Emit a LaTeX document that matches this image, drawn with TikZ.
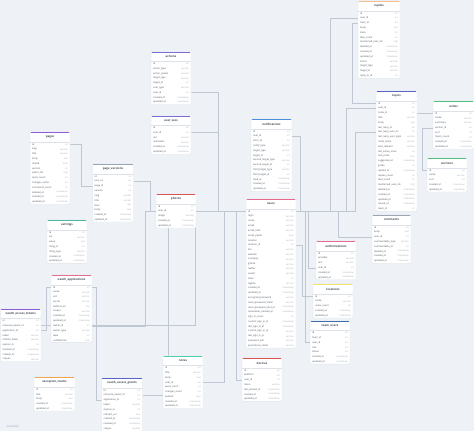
\documentclass[tikz,border=0pt]{standalone}
\usepackage{fontspec}
\setmainfont{Open Sans}
\usetikzlibrary{calc,backgrounds}

\definecolor{bgcol}{HTML}{EEF2F6}
\definecolor{linecol}{HTML}{BFC8D2}
\definecolor{boxline}{HTML}{DCE2E8}
\definecolor{fieldcol}{HTML}{46505B}
\definecolor{typecol}{HTML}{A3ACB6}
\definecolor{purplebar}{HTML}{7A6FD6}
\definecolor{peachbar}{HTML}{F5C08E}
\definecolor{indigobar}{HTML}{5A63C8}
\definecolor{greenbar}{HTML}{52C07E}
\definecolor{bluebar}{HTML}{4A8FD8}
\definecolor{pinkbar}{HTML}{E86A8E}
\definecolor{yellowbar}{HTML}{F2E16B}
\definecolor{steelbar}{HTML}{3D6DA8}
\definecolor{graybar}{HTML}{9AA6B2}
\definecolor{redbar}{HTML}{D9534F}
\definecolor{violetbar}{HTML}{8E5FD9}
\definecolor{tealbar}{HTML}{4DB6A0}
\definecolor{orangebar}{HTML}{F0A64E}
\definecolor{mintbar}{HTML}{4CCFAF}

\tikzset{
  tablebox/.style={fill=white, draw=boxline, line width=0.3pt, rounded corners=1.2pt},
  headbar/.style={line width=1.4pt},
  tabletitle/.style={font=\fontsize{2.9}{3.2}\selectfont\bfseries, text=fieldcol, inner sep=0pt},
  fieldrow/.style={font=\fontsize{2.4}{2.8}\selectfont, text=fieldcol, inner xsep=2pt, inner ysep=0pt, minimum height=4.8pt, align=left},
  fieldtype/.style={font=\fontsize{2.2}{2.6}\selectfont, text=typecol, inner sep=0pt},
  rel/.style={draw=linecol, line width=0.5pt},
  logo/.style={font=\fontsize{3}{3.4}\selectfont, text=typecol, inner sep=0pt}
}

\newcounter{nrows}
\newcommand{\fldtext}[1]{\expandafter\detokenize\expandafter{#1}}
% #1 name, #2 left, #3 top, #4 width, #5 bar colour, #6 fields
\newcommand{\erdtable}[6]{%
  \setcounter{nrows}{0}%
  \foreach \fname/\ftype in {#6}{\stepcounter{nrows}}%
  \pgfmathsetmacro{\tbot}{#3+10+4.8*\thenrows}%
  \pgfmathsetmacro{\tw}{#4-4}%
  \draw[tablebox] (#2,#3) rectangle (#2+#4,\tbot);
  \draw[headbar, draw=#5] (#2+0.7,#3+0.7) -- (#2+#4-0.7,#3+0.7);
  \draw[boxline, line width=0.2pt] (#2,#3+9.6) -- (#2+#4,#3+9.6);
  \node[tabletitle] (#1) at (#2+#4/2,#3+5) {\detokenize{#1}};
  \foreach \fname/\ftype [count=\i] in {#6}{%
    \node[fieldrow, text width=\tw pt, anchor=west] (#1-\fname) at (#2,#3+10+4.8*\i-2.4) {\fldtext{\fname}};
    \node[fieldtype, anchor=east] at (#2+#4-2,#3+10+4.8*\i-2.4) {\ftype};
  }%
}

\begin{document}
\begin{tikzpicture}[x=1pt, y=-1pt]
    \useasboundingbox (0,0) rectangle (474,431);

    % Tables
    \erdtable{actions}{151}{51.5}{40}{purplebar}{id/int,action_type/varchar,action_option/varchar,target_type/varchar,target_id/int,user_type/varchar,user_id/int,created_at/timestamp,updated_at/timestamp}
    \erdtable{user_ssos}{151}{115.5}{40}{purplebar}{id/int,user_id/int,uid/varchar,username/varchar,created_at/timestamp,updated_at/timestamp}
    \erdtable{replies}{358}{1}{42}{peachbar}{id/int,user_id/int,topic_id/int,body/text,state/int,likes_count/int,mentioned_user_ids/int[],deleted_at/timestamp,created_at/timestamp,updated_at/timestamp,action/varchar,target_type/varchar,target_id/varchar,reply_to_id/int}
    \erdtable{topics}{376}{91}{41}{indigobar}{id/int,user_id/int,node_id/int,title/varchar,body/text,last_reply_id/int,last_reply_user_id/int,last_reply_user_login/varchar,node_name/varchar,who_deleted/varchar,last_active_mark/int,lock_node/bool,suggested_at/timestamp,grade/int,replied_at/timestamp,replies_count/int,likes_count/int,mentioned_user_ids/int[],deleted_at/timestamp,created_at/timestamp,updated_at/timestamp,closed_at/timestamp,team_id/int}
    \erdtable{nodes}{433}{101}{41}{greenbar}{id/int,name/varchar,summary/varchar,section_id/int,sort/int,topics_count/int,created_at/timestamp,updated_at/timestamp}
    \erdtable{sections}{427}{158}{40}{greenbar}{id/int,name/varchar,sort/int,created_at/timestamp,updated_at/timestamp}
    \erdtable{comments}{372}{215}{39}{graybar}{id/int,body/text,user_id/int,commentable_type/varchar,commentable_id/int,deleted_at/timestamp,created_at/timestamp,updated_at/timestamp}
    \erdtable{notifications}{251}{119}{41}{bluebar}{id/int,user_id/int,actor_id/int,notify_type/varchar,target_type/varchar,target_id/int,second_target_type/varchar,second_target_id/int,third_target_type/varchar,third_target_id/int,read_at/timestamp,created_at/timestamp,updated_at/timestamp}
    \erdtable{users}{246}{199}{50}{pinkbar}{id/int,login/varchar,name/varchar,email/varchar,email_md5/varchar,email_public/bool,location/varchar,location_id/int,bio/varchar,website/varchar,company/varchar,github/varchar,twitter/varchar,avatar/varchar,state/int,tagline/varchar,created_at/timestamp,updated_at/timestamp,encrypted_password/varchar,reset_password_token/varchar,reset_password_sent_at/timestamp,remember_created_at/timestamp,sign_in_count/int,current_sign_in_at/timestamp,last_sign_in_at/timestamp,current_sign_in_ip/varchar,last_sign_in_ip/varchar,password_salt/varchar,persistence_token/varchar}
    \erdtable{authorizations}{316}{241}{40}{pinkbar}{id/int,provider/varchar,uid/varchar,user_id/int,created_at/timestamp,updated_at/timestamp}
    \erdtable{locations}{313}{284}{40}{yellowbar}{id/int,name/varchar,users_count/int,created_at/timestamp,updated_at/timestamp}
    \erdtable{team_users}{310}{320.5}{40}{steelbar}{id/int,team_id/int,user_id/int,role/int,status/int,created_at/timestamp,updated_at/timestamp}
    \erdtable{photos}{156}{194}{40}{redbar}{id/int,user_id/int,image/varchar,created_at/timestamp,updated_at/timestamp}
    \erdtable{pages}{30}{132}{40}{violetbar}{id/int,slug/varchar,title/varchar,body/text,locked/bool,version/int,editor_ids/int[],word_count/int,changes_cache/int,comments_count/int,deleted_at/timestamp,created_at/timestamp,updated_at/timestamp}
    \erdtable{page_versions}{92.5}{164}{41}{graybar}{id/int,user_id/int,page_id/int,version/int,slug/varchar,title/varchar,desc/text,body/text,created_at/timestamp,updated_at/timestamp}
    \erdtable{settings}{47}{220}{40}{tealbar}{id/int,var/varchar,value/text,thing_id/int,thing_type/varchar,created_at/timestamp,updated_at/timestamp}
    \erdtable{oauth_applications}{51}{275}{41}{pinkbar}{id/int,name/varchar,uid/varchar,secret/varchar,redirect_uri/text,scopes/varchar,created_at/timestamp,updated_at/timestamp,owner_id/int,owner_type/varchar,level/int,confidential/bool}
    \erdtable{oauth_access_tokens}{0.5}{308.5}{40.5}{violetbar}{id/int,resource_owner_id/int,application_id/int,token/varchar,refresh_token/varchar,expires_in/int,revoked_at/timestamp,created_at/timestamp,scopes/varchar}
    \erdtable{exception_tracks}{34}{377}{41}{orangebar}{id/int,title/varchar,body/text,created_at/timestamp,updated_at/timestamp}
    \erdtable{oauth_access_grants}{101.5}{378}{41}{indigobar}{id/int,resource_owner_id/int,application_id/int,token/varchar,expires_in/int,redirect_uri/text,created_at/timestamp,revoked_at/timestamp,scopes/varchar}
    \erdtable{notes}{163}{355.5}{40}{mintbar}{id/int,title/varchar,body/text,user_id/int,word_count/int,changes_count/int,publish/bool,created_at/timestamp,updated_at/timestamp}
    \erdtable{devices}{242}{358}{40}{redbar}{id/int,platform/int,user_id/int,token/varchar,last_actived_at/timestamp,created_at/timestamp,updated_at/timestamp}

    \node[logo] (logo) at (13,427) {drawSQL};

    \begin{scope}[on background layer]
    \fill[bgcol] (0,0) rectangle (474,431);

    % Relations into users.id, left side
    \draw[rel] (actions-user_id.east) -- ++(27,0) |- (users-id.west);
    \draw[rel] (user_ssos-user_id.east) -- ++(27,0) |- (users-id.west);
    \draw[rel] (photos-user_id.east) -- ++(22,0) |- (users-id.west);
    \draw[rel] (page_versions-user_id.east) -- ++(16,0) |- (users-id.west);
    \draw[rel] (notes-user_id.east) -- ++(21,0) |- (users-id.west);
    \draw[rel] (devices-user_id.west) -- ++(-5.5,0) |- (users-id.west);
    \draw[rel] (oauth_applications-owner_id.east) -- ++(52.5,0) |- (users-id.west);
    \draw[rel] (oauth_access_grants-resource_owner_id.east) -- ++(25.5,0) |- (users-id.west);
    \draw[rel] (oauth_access_tokens-resource_owner_id.east) -- ++(153.5,0) |- (users-id.west);

    % Relations into users.id, right side
    \draw[rel] (notifications-user_id.east) -- ++(8,0) |- (users-id.east);
    \draw[rel] (topics-user_id.west) -- ++(-30,0) |- (users-id.east);
    \draw[rel] (topics-last_reply_user_id.west) -- ++(-21,0) |- (users-id.east);
    \draw[rel] (replies-user_id.west) -- ++(-28,0) |- (users-id.east);
    \draw[rel] (comments-user_id.west) -- ++(-34,0) |- (users-id.east);
    \draw[rel] (authorizations-user_id.west) -- ++(-8,0) |- (users-id.east);
    \draw[rel] (team_users-user_id.west) -- ++(-5,0) |- (users-id.east);

    % Other relations
    \draw[rel] (users-location_id.east) -- ++(6,0) |- (locations-id.west);
    \draw[rel] (replies-topic_id.west) -- ++(-6,0) |- (topics-id.west);
    \draw[rel] (topics-node_id.east) -- ++(7,0) |- (nodes-id.west);
    \draw[rel] (nodes-section_id.west) -- ++(-11,0) |- (sections-id.west);
    \draw[rel] (pages-id.east) -- ++(11,0) |- (page_versions-page_id.west);
    \draw[rel] (oauth_access_tokens-application_id.east) -- ++(5,0) |- (oauth_applications-id.west);
    \draw[rel] (oauth_access_grants-application_id.west) -- ++(-5,0) |- (oauth_applications-id.east);
    \end{scope}
\end{tikzpicture}
\end{document}
